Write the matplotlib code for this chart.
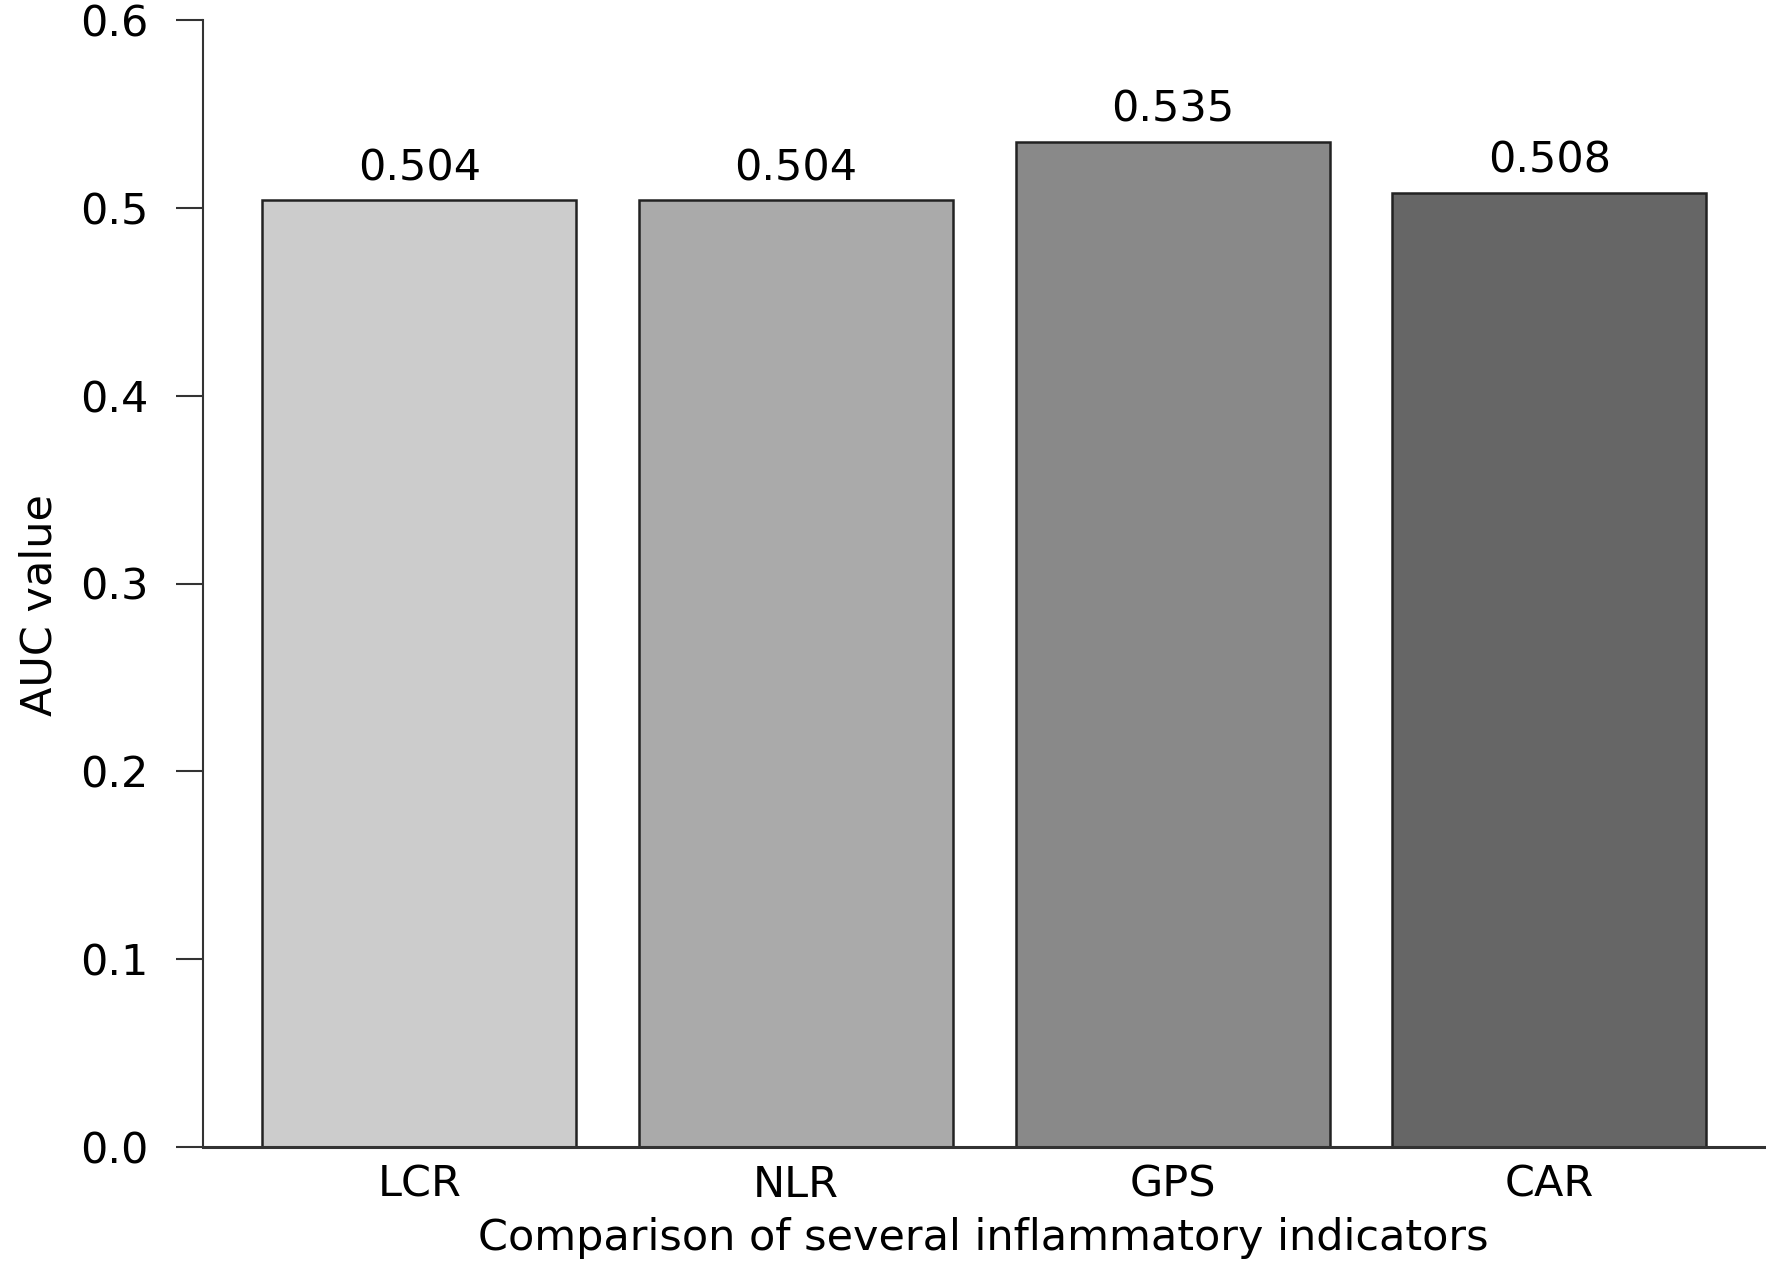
import matplotlib
matplotlib.use("Agg")
import matplotlib.pyplot as plt

categories = ["LCR", "NLR", "GPS", "CAR"]
auc_values = [0.504, 0.504, 0.535, 0.508]
value_labels = ["0.504", "0.504", "0.535", "0.508"]
bar_colors = ["#cccccc", "#aaaaaa", "#898989", "#666666"]
yticks = [0.0, 0.1, 0.2, 0.3, 0.4, 0.5, 0.6]
ytick_labels = ["0.0", "0.1", "0.2", "0.3", "0.4", "0.5", "0.6"]

plt.rcParams['font.family'] = ['DejaVu Sans']

fig = plt.figure(figsize=(17.66, 12.64), dpi=100)
ax = fig.add_axes([203/1766, 117/1264, 1561/1766, 1127/1264])

x = list(range(len(categories)))
bars = ax.bar(x, auc_values, width=0.834, color=bar_colors,
              edgecolor="#222222", linewidth=1.8, clip_on=False, zorder=2)
ax.bar_label(bars, labels=value_labels, padding=8, fontsize=31)

ax.set_xlim(-0.574, 3.570)
ax.set_ylim(0, 0.6)
ax.set_yticks(yticks)
ax.set_yticklabels(ytick_labels)
ax.set_xticks(x)
ax.set_xticklabels(categories)

for s in ["top", "right"]:
    ax.spines[s].set_visible(False)
ax.spines["left"].set_linewidth(1.5)
ax.spines["left"].set_color("#333333")
ax.spines["bottom"].set_linewidth(2.2)
ax.spines["bottom"].set_color("#333333")
ax.spines["bottom"].set_zorder(3)

ax.tick_params(axis="y", length=19.5, width=1.5, color="#333333",
               pad=20, labelsize=31)
ax.tick_params(axis="x", length=0, pad=12, labelsize=31)

ax.set_ylabel("AUC value", fontsize=31, labelpad=14)
ax.yaxis.label.set_y(0.481)
ax.set_xlabel("Comparison of several inflammatory indicators", fontsize=31,
              labelpad=8)

fig.savefig("out.png", dpi=100)
